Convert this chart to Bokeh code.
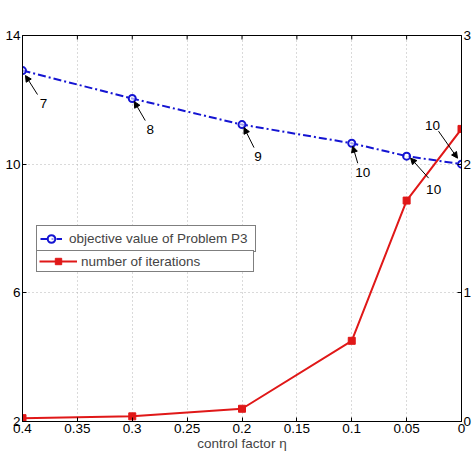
from bokeh.plotting import figure
from bokeh.models import (Range1d, LinearAxis, FixedTicker, Legend, LegendItem,
                          Arrow, NormalHead, Label)
from bokeh.embed import file_html
from bokeh.resources import INLINE

# ---- data ----
eta = [0.4, 0.3, 0.2, 0.1, 0.05, 0.0]
objective = [12.91, 12.04, 11.23, 10.65, 10.25, 10.0]
iterations_scaled = [0.026, 0.040, 0.099, 0.627, 1.717, 2.274]
iteration_counts = ["7", "8", "9", "10", "10", "10"]
x_ticks = [0.4, 0.35, 0.3, 0.25, 0.2, 0.15, 0.1, 0.05, 0.0]
x_tick_labels = ["0.4", "0.35", "0.3", "0.25", "0.2", "0.15", "0.1", "0.05", "0"]
left_ticks = [2, 6, 10, 14]
right_ticks = [0, 1, 2, 3]
series_names = ["objective value of Problem P3", "number of iterations"]
x_label = "control factor \u03b7"

# ---- style ----
FONT = "Liberation Sans"
FS = "13.5px"
BLUE = "#1414d2"
RED = "#e01818"
# (label dx, label dy, arrow-tail dx, dy, arrow-head dx, dy) in screen px, y down
annot_offsets = [
    (21, 33, 15, 24, 3, 5),
    (18, 31, 13, 22, 2, 3),
    (16, 32, 12, 23, 2, 3),
    (11, 29, 6, 20, 1, 3),
    (27, 33, 22, 22, 4, 2),
    (-29, -39, -23, -33, -4, -6),
]

p = figure(width=474, height=474, output_backend="svg", toolbar_location=None,
           x_range=Range1d(0.4, 0.0), y_range=Range1d(2, 14),
           min_border_left=22, min_border_right=13, min_border_top=35,
           min_border_bottom=53)
p.extra_y_ranges = {"iter": Range1d(0, 3)}
p.outline_line_color = "black"
p.outline_line_alpha = 1
p.background_fill_color = "white"
p.border_fill_color = "white"

def style_axis(ax, ticks):
    ax.ticker = FixedTicker(ticks=ticks)
    ax.axis_line_color = "black"
    ax.major_tick_line_color = "black"
    ax.major_tick_in = 4
    ax.major_tick_out = 0
    ax.minor_tick_line_color = None
    ax.major_label_text_font = FONT
    ax.major_label_text_font_size = FS
    ax.major_label_text_color = "black"
    ax.major_label_standoff = 2

xa = p.xaxis[0]
style_axis(xa, x_ticks)
xa.major_label_overrides = {t: s for t, s in zip(x_ticks, x_tick_labels)}
xa.axis_label = x_label
xa.axis_label_text_font = FONT
xa.axis_label_text_font_size = FS
xa.axis_label_text_font_style = "normal"
xa.axis_label_standoff = 0

ya = p.yaxis[0]
style_axis(ya, left_ticks)

ry = LinearAxis(y_range_name="iter")
style_axis(ry, right_ticks)
p.add_layout(ry, "right")

p.xgrid.ticker = FixedTicker(ticks=x_ticks)
p.ygrid.ticker = FixedTicker(ticks=left_ticks)
for g in (p.xgrid[0], p.ygrid[0]):
    g.grid_line_color = "#b4b4b4"
    g.grid_line_dash = "1 3"
    g.grid_line_width = 1

KX = 439 / 0.4   # px per x unit
KY = 386 / 12    # px per left-y unit

# inward tick marks on the top edge of the box
top_y = left_ticks[-1]
p.segment(x0=x_ticks, y0=[top_y] * len(x_ticks), x1=x_ticks,
          y1=[top_y - 4 / KY] * len(x_ticks), line_color="black", line_width=1)

# series
bl = p.line(eta, objective, line_color=BLUE, line_width=2, line_dash="8 3 2 3")
bm = p.scatter(eta, objective, marker="circle", size=7, line_color=BLUE,
               line_width=2, fill_color="white", fill_alpha=0.6)
rl = p.line(eta, iterations_scaled, y_range_name="iter", line_color=RED, line_width=2)
rm = p.scatter(eta, iterations_scaled, y_range_name="iter", marker="square", size=7,
               line_color=RED, fill_color=RED)

# annotations
for xv, yv, txt, off in zip(eta, objective, iteration_counts, annot_offsets):
    ldx, ldy, tdx, tdy, hdx, hdy = off
    p.add_layout(Arrow(end=NormalHead(size=6, fill_color="black", line_color="black"),
                       x_start=xv - tdx / KX, y_start=yv - tdy / KY,
                       x_end=xv - hdx / KX, y_end=yv - hdy / KY,
                       line_color="black", line_width=1))
    p.add_layout(Label(x=xv, y=yv, x_offset=ldx, y_offset=-ldy, text=txt,
                       text_font=FONT, text_font_size=FS, text_color="black",
                       text_align="center", text_baseline="middle"))

def make_legend(item, loc, glyph_w, standoff, row_h, pad, label_w):
    lg = Legend(items=[item], location=loc, orientation="vertical")
    lg.border_line_color = "black"
    lg.border_line_width = 1
    lg.background_fill_color = "white"
    lg.background_fill_alpha = 1
    lg.label_text_font = FONT
    lg.label_text_font_size = FS
    lg.label_text_baseline = "middle"
    lg.glyph_width = glyph_w
    lg.glyph_height = row_h
    lg.label_height = row_h
    lg.label_width = label_w
    lg.label_standoff = standoff
    lg.padding = pad
    lg.spacing = 0
    lg.margin = 0
    return lg

leg1 = make_legend(LegendItem(label=series_names[0], renderers=[bl, bm]),
                   (14, 169), 22, 7, 19, 3, 183)
leg2 = make_legend(LegendItem(label=series_names[1], renderers=[rl, rm]),
                   (14, 149), 38, 4, 16, 2, 170)
p.add_layout(leg1, "center")
p.add_layout(leg2, "center")

open("out.html", "w").write(file_html(p, INLINE))
